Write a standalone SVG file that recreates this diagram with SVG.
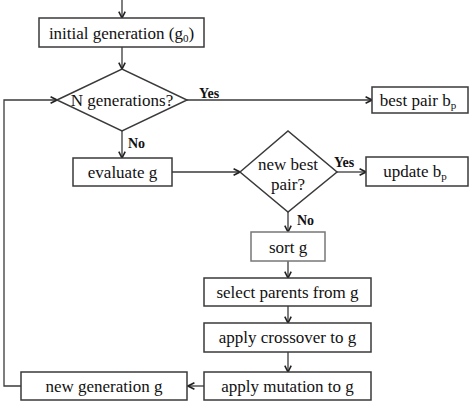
<svg xmlns="http://www.w3.org/2000/svg" width="474" height="405" viewBox="0 0 474 405" font-family="'Liberation Serif','Times New Roman',serif">
<style>
.box{fill:#fff;stroke:#3a3a3a;stroke-width:1.5}
.t{font-family:'Liberation Serif','Times New Roman',serif;font-size:17px;fill:#111;text-anchor:middle}
.lb{font-family:'Liberation Serif','Times New Roman',serif;font-size:14px;font-weight:bold;fill:#111}
.c{fill:none;stroke:#3a3a3a;stroke-width:1.3}
</style>
<defs>
<marker id="ah" viewBox="0 0 10 10" refX="9" refY="5" markerWidth="8" markerHeight="8" markerUnits="userSpaceOnUse" orient="auto">
<path d="M1,1 L9,5 L1,9" fill="none" stroke="#222" stroke-width="2"/>
</marker>
</defs>
<g id="connectors">
<line class="c" x1="122" y1="0" x2="122" y2="18" marker-end="url(#ah)"/>
<line class="c" x1="122" y1="47" x2="122" y2="69" marker-end="url(#ah)"/>
<line class="c" x1="187" y1="100" x2="372" y2="100" marker-end="url(#ah)"/>
<line class="c" x1="122" y1="131" x2="122" y2="158" marker-end="url(#ah)"/>
<line class="c" x1="172" y1="172" x2="240" y2="172" marker-end="url(#ah)"/>
<line class="c" x1="337" y1="172" x2="366" y2="172" marker-end="url(#ah)"/>
<line class="c" x1="288" y1="212" x2="288" y2="232" marker-end="url(#ah)"/>
<line class="c" x1="288" y1="261" x2="288" y2="278" marker-end="url(#ah)"/>
<line class="c" x1="288" y1="306" x2="288" y2="323" marker-end="url(#ah)"/>
<line class="c" x1="288" y1="352" x2="288" y2="372" marker-end="url(#ah)"/>
<line class="c" x1="204" y1="386" x2="188" y2="386" marker-end="url(#ah)"/>
<polyline class="c" points="21,386 4,386 4,100 57,100" marker-end="url(#ah)"/>
<text class="lb" x="199" y="98">Yes</text>
<text class="lb" x="128" y="148">No</text>
<text class="lb" x="334" y="167">Yes</text>
<text class="lb" x="297" y="225">No</text>
</g>
<g id="init">
<rect class="box" x="39" y="18" width="165" height="29"/>
<text class="t" x="121.5" y="39">initial generation (g<tspan font-size="11" dy="3">0</tspan><tspan dy="-3">)</tspan></text>
</g>
<g id="ngen">
<polygon class="box" points="57,100 122,69 187,100 122,131"/>
<text class="t" x="122" y="106">N generations?</text>
</g>
<g id="best">
<rect class="box" x="372" y="87" width="96" height="26"/>
<text class="t" x="418" y="106">best pair b<tspan font-size="11" dy="3">p</tspan></text>
</g>
<g id="eval">
<rect class="box" x="73" y="158" width="99" height="28"/>
<text class="t" x="122.5" y="178">evaluate g</text>
</g>
<g id="newbest">
<polygon class="box" points="240,172 288,131 337,172 288,212"/>
<text class="t" x="288" y="170">new best</text>
<text class="t" x="288" y="190">pair?</text>
</g>
<g id="update">
<rect class="box" x="366" y="157" width="102" height="29"/>
<text class="t" x="415" y="177">update b<tspan font-size="11" dy="3">p</tspan></text>
</g>
<g id="sort">
<rect class="box" x="251" y="232" width="74" height="29" style="stroke:#777"/>
<text class="t" x="288" y="253">sort g</text>
</g>
<g id="select">
<rect class="box" x="204" y="278" width="167" height="28"/>
<text class="t" x="287.5" y="298">select parents from g</text>
</g>
<g id="crossover">
<rect class="box" x="204" y="323" width="167" height="29"/>
<text class="t" x="287.5" y="343">apply crossover to g</text>
</g>
<g id="mutation">
<rect class="box" x="204" y="372" width="167" height="28"/>
<text class="t" x="287.5" y="392">apply mutation to g</text>
</g>
<g id="newgen">
<rect class="box" x="21" y="372" width="166" height="28"/>
<text class="t" x="104" y="392">new generation g</text>
</g>
</svg>
